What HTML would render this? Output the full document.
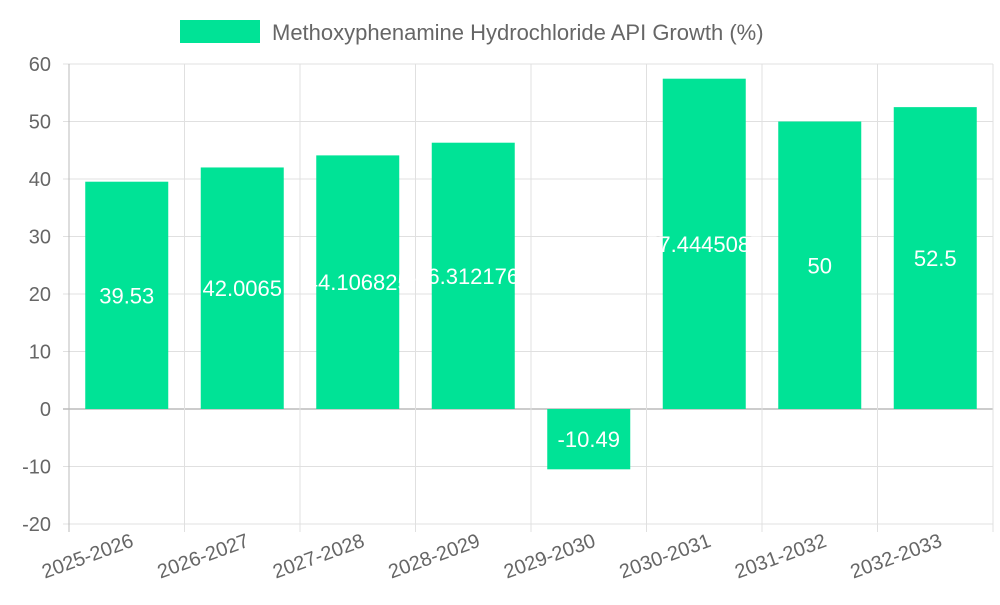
<!DOCTYPE html>
<html><head><meta charset="utf-8"><style>
body{margin:0;background:#fff}
svg{font-family:"Liberation Sans",sans-serif}
</style></head><body>
<svg id="c" width="1000" height="600">
<g>
<rect x="180" y="20" width="80" height="23" fill="#00e396"/>
<text x="272" y="40" font-size="22" fill="#666">Methoxyphenamine Hydrochloride API Growth (%)</text>
</g>
<g id="grid"></g><g id="bars"></g><g id="labels"></g>
</svg>
<script>
const categories=["2025-2026","2026-2027","2027-2028","2028-2029","2029-2030","2030-2031","2031-2032","2032-2033"];
const values=[39.53,42.0065,44.106825,46.3121762,-10.49,57.4445087,50,52.5];
const valueLabels=["39.53","42.0065","44.106825","46.3121762","-10.49","57.4445087","50","52.5"];
const yTicks=[60,50,40,30,20,10,0,-10,-20];
const NS="http://www.w3.org/2000/svg";
const L=69,R=993,T=64,B=524,yMin=-20,yMax=60;
const y=v=>T+(yMax-v)/(yMax-yMin)*(B-T);
const bw=(R-L)/categories.length;
const x=i=>L+bw*i;
function mk(tag,attrs,parent){const e=document.createElementNS(NS,tag);for(const k in attrs)e.setAttribute(k,attrs[k]);document.getElementById(parent).appendChild(e);return e;}
yTicks.forEach(t=>{
 const ln=mk('line',{x1:L-6,x2:R,y1:y(t),y2:y(t),stroke:t===0?'#bbb':'#e0e0e0','stroke-width':t===0?1.5:1},'grid');
 
 
 const tx=mk('text',{x:L-18,y:y(t)+7,'text-anchor':'end','font-size':20,fill:'#666'},'grid');
 tx.textContent=t;
 
 
});
for(let i=0;i<=categories.length;i++){
 const ln=mk('line',{x1:x(i),x2:x(i),y1:T,y2:B+8,stroke:i===0?'#bbb':'#e0e0e0'},'grid');
 
 
}
categories.forEach((c,i)=>{
 const cx=x(i)+bw/2;
 const tx=mk('text',{x:0,y:0,'text-anchor':'end','font-size':20,fill:'#666',transform:`translate(${cx+8},${B+22}) rotate(-20)`},'grid');
 tx.textContent=c;
 
 
 const v=values[i],top=Math.min(y(v),y(0)),h=Math.abs(y(v)-y(0));
 const r=mk('rect',{x:cx-41.5,y:top,width:83,height:h,fill:'#00e396'},'bars');
 
 
 const lb=mk('text',{x:cx,y:top+h/2+8,'text-anchor':'middle','font-size':22,fill:'#fff'},'labels');
 lb.textContent=valueLabels[i];
 
 
});
</script>
</body></html>
